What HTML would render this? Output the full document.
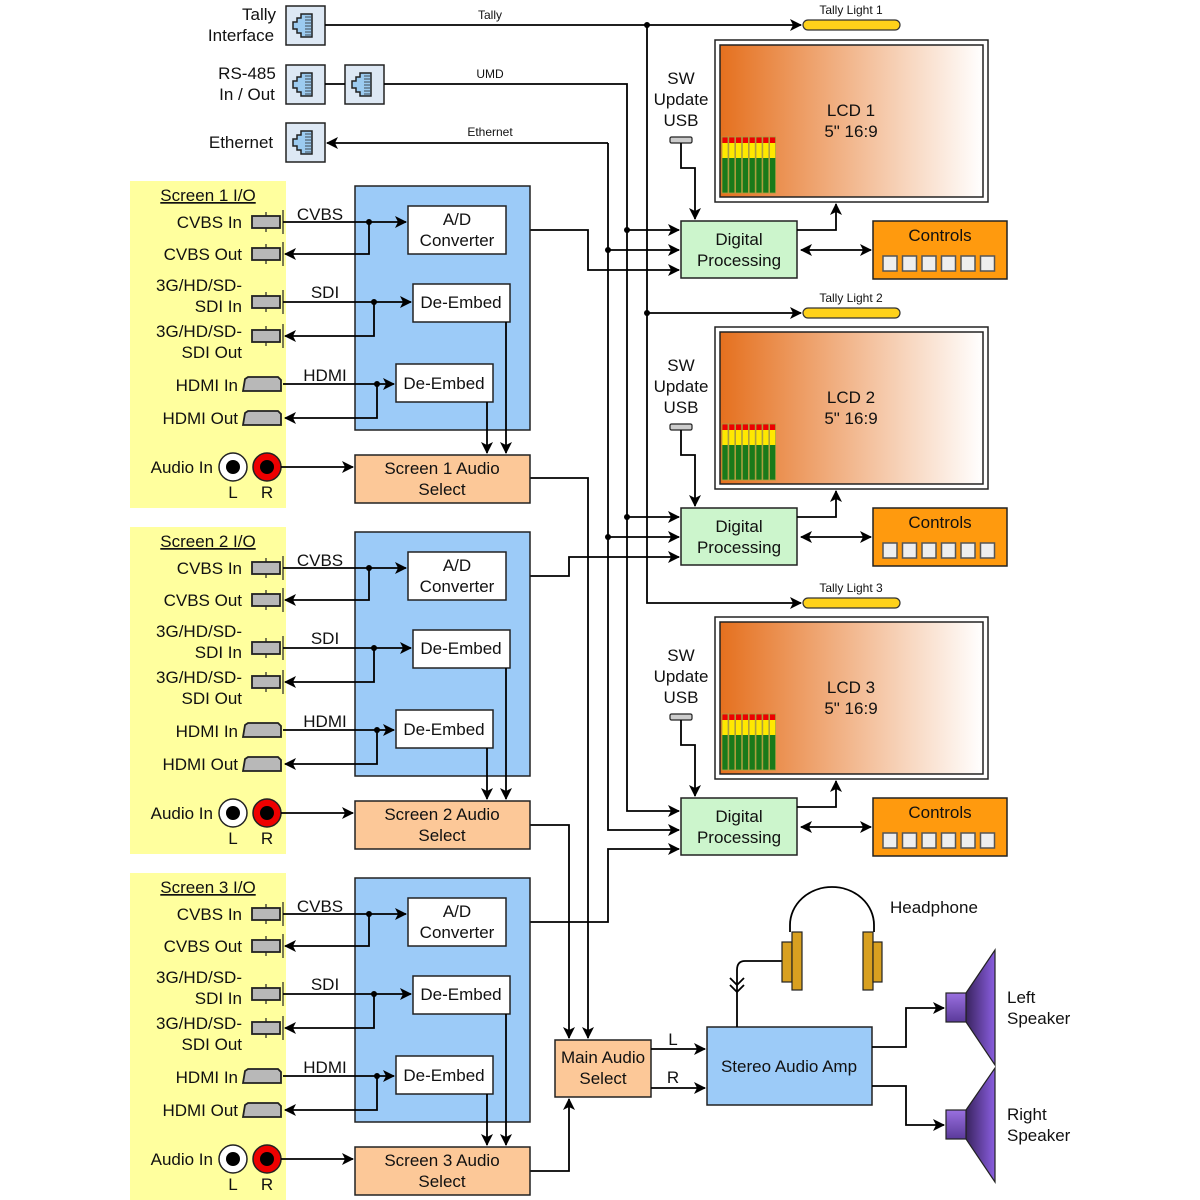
<!DOCTYPE html>
<html><head><meta charset="utf-8"><style>
html,body{margin:0;padding:0;background:#fff}
svg{display:block}
text{font-family:"Liberation Sans",sans-serif;fill:#111}
.l{font-size:17px}
.s{font-size:12px}
.ln{stroke:#000;stroke-width:1.8;fill:none}
</style></head><body>
<svg width="1200" height="1200" viewBox="0 0 1200 1200" xmlns="http://www.w3.org/2000/svg">
<defs>
<marker id="a" markerWidth="12" markerHeight="12" refX="11" refY="6" orient="auto" markerUnits="userSpaceOnUse"><path d="M0,0 L12,6 L0,12 L3,6 z" fill="#000"/></marker>
<marker id="as" markerWidth="12" markerHeight="12" refX="1" refY="6" orient="auto" markerUnits="userSpaceOnUse"><path d="M12,0 L0,6 L12,12 L9,6 z" fill="#000"/></marker>
<linearGradient id="lcd" x1="0" x2="1" y1="0" y2="0"><stop offset="0" stop-color="#e5701e"/><stop offset="1" stop-color="#fff"/></linearGradient>
<linearGradient id="spk" x1="0" x2="1"><stop offset="0" stop-color="#3a2460"/><stop offset="1" stop-color="#8a5ee0"/></linearGradient>
<linearGradient id="mag" x1="0" x2="0" y1="0" y2="1"><stop offset="0" stop-color="#9a70e0"/><stop offset="1" stop-color="#5a3a9a"/></linearGradient>
<g id="rj">
<rect x="0" y="0" width="39" height="39" fill="#dde8f4" stroke="#222" stroke-width="1.5"/>
<path d="M26,8 L15,8 L15,12 L11,12 L11,16 L7,16 L7,23 L11,23 L11,27 L15,27 L15,31 L26,31 Z" fill="#9ccbf0" stroke="#222" stroke-width="1.5"/>
<path d="M19,11 H25 M19,14 H25 M19,17 H25 M19,20 H25 M19,23 H25 M19,26 H25 M19,29 H25" stroke="#222" stroke-width="0.8"/>
</g>
<g id="bnc"><rect x="-31" y="-6" width="28" height="12" fill="#b8b8b8" stroke="#222" stroke-width="1.8"/><path d="M-17,-10 V-6 M-17,6 V10 M0,-12 V12" stroke="#222" stroke-width="1.2"/></g>
<g id="hdmi"><path d="M-40,7 L-38,-5 L-35,-7 L-5,-7 L-2,-4 L-2,7 Z" fill="#b8b8b8" stroke="#222" stroke-width="1.8"/></g>
<g id="meter">
<g id="bar"><rect x="0" y="0" width="6" height="6" fill="#e00"/><rect x="0" y="6" width="6" height="15" fill="#ffe800"/><rect x="0" y="21" width="6" height="35" fill="#1a7a1a"/><rect x="0" y="0" width="6" height="56" fill="none" stroke="#a8a040" stroke-width="0.8"/></g>
<use href="#bar" x="6.8"/><use href="#bar" x="13.6"/><use href="#bar" x="20.4"/><use href="#bar" x="27.2"/><use href="#bar" x="34"/><use href="#bar" x="40.8"/><use href="#bar" x="47.6"/>
</g>
<g id="dpblk">
<text class="l" x="681" y="84" text-anchor="middle">SW</text>
<text class="l" x="681" y="105" text-anchor="middle">Update</text>
<text class="l" x="681" y="126" text-anchor="middle">USB</text>
<rect x="670" y="137" width="22" height="6" rx="1.5" fill="#ccc" stroke="#222" stroke-width="1.2"/>
<path class="ln" d="M681,143 V168 H695 V219" marker-end="url(#a)"/>
<rect x="681" y="221" width="116" height="57" fill="#ccf5cc" stroke="#222" stroke-width="1.5"/>
<text class="l" x="739" y="245" text-anchor="middle">Digital</text>
<text class="l" x="739" y="266" text-anchor="middle">Processing</text>
<path class="ln" d="M797,230 H836 V204" marker-end="url(#a)"/>
<path class="ln" d="M801,250 H871" marker-end="url(#a)" marker-start="url(#as)"/>
<rect x="873" y="221" width="134" height="58" fill="#ff9a0e" stroke="#222" stroke-width="1.5"/>
<text class="l" x="940" y="241" text-anchor="middle">Controls</text>
<g fill="#eee" stroke="#555" stroke-width="1.5">
<rect x="883" y="256" width="14" height="15"/><rect x="902.5" y="256" width="14" height="15"/><rect x="922" y="256" width="14" height="15"/><rect x="941.5" y="256" width="14" height="15"/><rect x="961" y="256" width="14" height="15"/><rect x="980.5" y="256" width="14" height="15"/>
</g>
</g>
<g id="scrc">
<rect x="130" y="181" width="156" height="327" fill="#ffff9e"/>
<rect x="355" y="186" width="175" height="244" fill="#9ccbf8" stroke="#222" stroke-width="1.5"/>
<text class="l" x="242" y="228" text-anchor="end">CVBS In</text>
<text class="l" x="242" y="260" text-anchor="end">CVBS Out</text>
<text class="l" x="242" y="291" text-anchor="end">3G/HD/SD-</text>
<text class="l" x="242" y="312" text-anchor="end">SDI In</text>
<text class="l" x="242" y="337" text-anchor="end">3G/HD/SD-</text>
<text class="l" x="242" y="358" text-anchor="end">SDI Out</text>
<text class="l" x="238" y="391" text-anchor="end">HDMI In</text>
<text class="l" x="238" y="424" text-anchor="end">HDMI Out</text>
<text class="l" x="213" y="473" text-anchor="end">Audio In</text>
<use href="#bnc" x="283" y="222"/><use href="#bnc" x="283" y="254"/>
<use href="#bnc" x="283" y="302"/><use href="#bnc" x="283" y="336"/>
<use href="#hdmi" x="283" y="384"/><use href="#hdmi" x="283" y="418"/>
<circle cx="233" cy="467" r="14" fill="#fff" stroke="#222" stroke-width="1.5"/><circle cx="233" cy="467" r="7" fill="#000"/>
<circle cx="267" cy="467" r="14" fill="#e00" stroke="#222" stroke-width="1.5"/><circle cx="267" cy="467" r="7" fill="#000"/>
<text class="l" x="233" y="498" text-anchor="middle">L</text>
<text class="l" x="267" y="498" text-anchor="middle">R</text>
<path class="ln" d="M283,222 H406" marker-end="url(#a)"/><circle cx="369" cy="222" r="3"/>
<path class="ln" d="M369,222 V254 H285" marker-end="url(#a)"/>
<text class="l" x="320" y="220" text-anchor="middle">CVBS</text>
<path class="ln" d="M283,302 H411" marker-end="url(#a)"/><circle cx="374" cy="302" r="3"/>
<path class="ln" d="M374,302 V336 H285" marker-end="url(#a)"/>
<text class="l" x="325" y="298" text-anchor="middle">SDI</text>
<path class="ln" d="M283,384 H394" marker-end="url(#a)"/><circle cx="377" cy="384" r="3"/>
<path class="ln" d="M377,384 V418 H285" marker-end="url(#a)"/>
<text class="l" x="325" y="381" text-anchor="middle">HDMI</text>
<rect x="408" y="206" width="98" height="48" fill="#fff" stroke="#222" stroke-width="1.5"/>
<text class="l" x="457" y="225" text-anchor="middle">A/D</text>
<text class="l" x="457" y="246" text-anchor="middle">Converter</text>
<rect x="413" y="284" width="97" height="38" fill="#fff" stroke="#222" stroke-width="1.5"/>
<text class="l" x="461" y="308" text-anchor="middle">De-Embed</text>
<rect x="396" y="364" width="97" height="38" fill="#fff" stroke="#222" stroke-width="1.5"/>
<text class="l" x="444" y="389" text-anchor="middle">De-Embed</text>
<path class="ln" d="M487,402 V453" marker-end="url(#a)"/>
<path class="ln" d="M506,322 V453" marker-end="url(#a)"/>
<path class="ln" d="M281,467 H353" marker-end="url(#a)"/>
<rect x="355" y="455" width="175" height="48" fill="#fcc898" stroke="#222" stroke-width="1.5"/>
<text class="l" x="442" y="495" text-anchor="middle">Select</text>
</g>
</defs>

<!-- top interfaces -->
<text class="l" x="259" y="20" text-anchor="middle">Tally</text>
<text class="l" x="241" y="41" text-anchor="middle">Interface</text>
<use href="#rj" x="286" y="6"/>
<text class="l" x="247" y="79" text-anchor="middle">RS-485</text>
<text class="l" x="247" y="100" text-anchor="middle">In / Out</text>
<use href="#rj" x="286" y="65"/><use href="#rj" x="345" y="65"/>
<path class="ln" d="M325,84 H345"/>
<text class="l" x="241" y="148" text-anchor="middle">Ethernet</text>
<use href="#rj" x="286" y="123"/>

<path class="ln" d="M325,25 H801" marker-end="url(#a)"/>
<text class="s" x="490" y="19" text-anchor="middle">Tally</text>
<path class="ln" d="M384,84 H627 V811 H679" marker-end="url(#a)"/>
<text class="s" x="490" y="78" text-anchor="middle">UMD</text>
<path class="ln" d="M608,143 H327" marker-end="url(#a)"/>
<path class="ln" d="M608,143 V830 H679" marker-end="url(#a)"/>
<text class="s" x="490" y="136" text-anchor="middle">Ethernet</text>
<path class="ln" d="M647,25 V603 H801" marker-end="url(#a)"/>
<path class="ln" d="M647,313 H801" marker-end="url(#a)"/>
<circle cx="647" cy="25" r="3"/><circle cx="647" cy="313" r="3"/>

<path class="ln" d="M627,230 H679" marker-end="url(#a)"/><circle cx="627" cy="230" r="3"/>
<path class="ln" d="M608,250 H679" marker-end="url(#a)"/><circle cx="608" cy="250" r="3"/>
<path class="ln" d="M530,230 H588 V270 H679" marker-end="url(#a)"/>
<path class="ln" d="M627,517 H679" marker-end="url(#a)"/><circle cx="627" cy="517" r="3"/>
<path class="ln" d="M608,537 H679" marker-end="url(#a)"/><circle cx="608" cy="537" r="3"/>
<path class="ln" d="M530,576 H569 V557 H679" marker-end="url(#a)"/>
<path class="ln" d="M530,922 H608 V849 H679" marker-end="url(#a)"/>

<path class="ln" d="M530,478 H588 V1038" marker-end="url(#a)"/>
<path class="ln" d="M530,825 H569 V1038" marker-end="url(#a)"/>
<path class="ln" d="M530,1171 H569 V1099" marker-end="url(#a)"/>

<rect x="803" y="20" width="97" height="10" rx="5" fill="#ffd21a" stroke="#333" stroke-width="1.2"/>
<text class="s" x="851" y="14" text-anchor="middle">Tally Light 1</text>
<rect x="803" y="308" width="97" height="10" rx="5" fill="#ffd21a" stroke="#333" stroke-width="1.2"/>
<text class="s" x="851" y="302" text-anchor="middle">Tally Light 2</text>
<rect x="803" y="598" width="97" height="10" rx="5" fill="#ffd21a" stroke="#333" stroke-width="1.2"/>
<text class="s" x="851" y="592" text-anchor="middle">Tally Light 3</text>

<rect x="715" y="40" width="273" height="162" fill="#fff" stroke="#222" stroke-width="1.5"/>
<rect x="720" y="45" width="263" height="152" fill="url(#lcd)" stroke="#222" stroke-width="1.5"/>
<use href="#meter" x="722" y="137"/>
<text class="l" x="851" y="116" text-anchor="middle">LCD 1</text>
<text class="l" x="851" y="137" text-anchor="middle">5" 16:9</text>
<use href="#dpblk"/>
<rect x="715" y="327" width="273" height="162" fill="#fff" stroke="#222" stroke-width="1.5"/>
<rect x="720" y="332" width="263" height="152" fill="url(#lcd)" stroke="#222" stroke-width="1.5"/>
<use href="#meter" x="722" y="424"/>
<text class="l" x="851" y="403" text-anchor="middle">LCD 2</text>
<text class="l" x="851" y="424" text-anchor="middle">5" 16:9</text>
<use href="#dpblk" y="287"/>
<rect x="715" y="617" width="273" height="162" fill="#fff" stroke="#222" stroke-width="1.5"/>
<rect x="720" y="622" width="263" height="152" fill="url(#lcd)" stroke="#222" stroke-width="1.5"/>
<use href="#meter" x="722" y="714"/>
<text class="l" x="851" y="693" text-anchor="middle">LCD 3</text>
<text class="l" x="851" y="714" text-anchor="middle">5" 16:9</text>
<use href="#dpblk" y="577"/>

<use href="#scrc"/>
<text class="l" x="208" y="201" text-anchor="middle" text-decoration="underline">Screen 1 I/O</text>
<text class="l" x="442" y="474" text-anchor="middle">Screen 1 Audio</text>
<use href="#scrc" y="346"/>
<text class="l" x="208" y="547" text-anchor="middle" text-decoration="underline">Screen 2 I/O</text>
<text class="l" x="442" y="820" text-anchor="middle">Screen 2 Audio</text>
<use href="#scrc" y="692"/>
<text class="l" x="208" y="893" text-anchor="middle" text-decoration="underline">Screen 3 I/O</text>
<text class="l" x="442" y="1166" text-anchor="middle">Screen 3 Audio</text>

<rect x="555" y="1040" width="96" height="57" fill="#fcc898" stroke="#222" stroke-width="1.5"/>
<text class="l" x="603" y="1063" text-anchor="middle">Main Audio</text>
<text class="l" x="603" y="1084" text-anchor="middle">Select</text>
<path class="ln" d="M651,1049 H705" marker-end="url(#a)"/>
<path class="ln" d="M651,1088 H705" marker-end="url(#a)"/>
<text class="l" x="673" y="1045" text-anchor="middle">L</text>
<text class="l" x="673" y="1083" text-anchor="middle">R</text>
<rect x="707" y="1027" width="165" height="78" fill="#9ccbf8" stroke="#222" stroke-width="1.5"/>
<text class="l" x="789" y="1072" text-anchor="middle">Stereo Audio Amp</text>
<path class="ln" d="M872,1047 H906 V1008 H944" marker-end="url(#a)"/>
<path class="ln" d="M872,1086 H906 V1125 H944" marker-end="url(#a)"/>

<path class="ln" d="M790,932 V925 A42,38 0 0 1 874,925 V932"/>
<path class="ln" d="M782,961 H745 Q737,961 737,970 V1027"/>
<path class="ln" d="M730,978 L737,985 L744,978 M730,985 L737,992 L744,985"/>
<rect x="782" y="942" width="10" height="40" fill="#d8a020" stroke="#222" stroke-width="1.2"/>
<rect x="792" y="932" width="10" height="58" fill="#d8a020" stroke="#222" stroke-width="1.2"/>
<rect x="863" y="932" width="10" height="58" fill="#d8a020" stroke="#222" stroke-width="1.2"/>
<rect x="873" y="942" width="9" height="40" fill="#d8a020" stroke="#222" stroke-width="1.2"/>
<text class="l" x="890" y="913">Headphone</text>

<path d="M966,993 L995,950 L995,1065 L966,1022 Z" fill="url(#spk)" stroke="#222" stroke-width="1.2"/>
<rect x="946" y="993" width="20" height="29" fill="url(#mag)" stroke="#222" stroke-width="1.2"/>
<path d="M966,1110 L995,1068 L995,1182 L966,1139 Z" fill="url(#spk)" stroke="#222" stroke-width="1.2"/>
<rect x="946" y="1110" width="20" height="29" fill="url(#mag)" stroke="#222" stroke-width="1.2"/>
<text class="l" x="1007" y="1003">Left</text>
<text class="l" x="1007" y="1024">Speaker</text>
<text class="l" x="1007" y="1120">Right</text>
<text class="l" x="1007" y="1141">Speaker</text>
</svg>
</body></html>
